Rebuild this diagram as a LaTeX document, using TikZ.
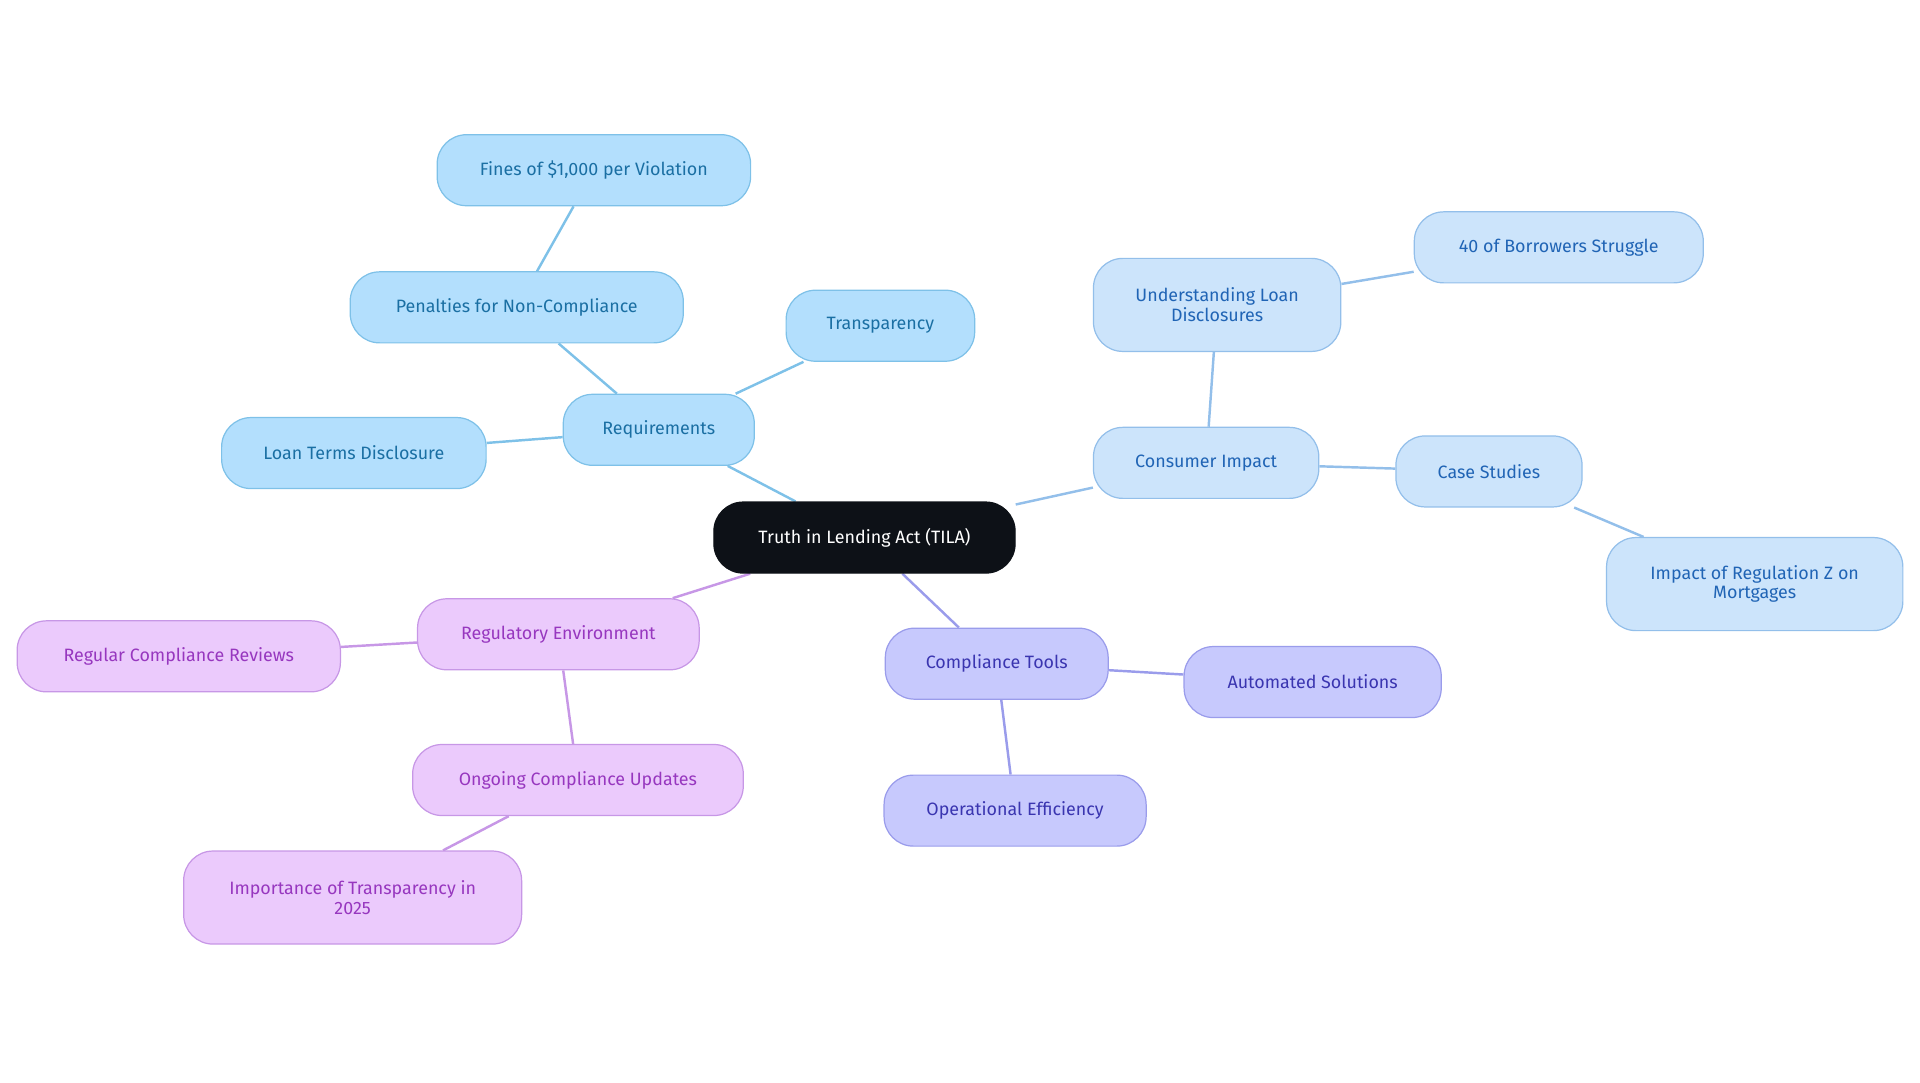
\documentclass[tikz,border=0pt]{standalone}
\usepackage{fontspec}
\setmainfont{Fira Sans}
\usetikzlibrary{backgrounds}
\definecolor{rootfill}{HTML}{0D1117}
\definecolor{reqfill}{HTML}{B3DFFD}
\definecolor{reqline}{HTML}{7EC1E8}
\definecolor{reqtext}{HTML}{1A6FA3}
\definecolor{conffill}{HTML}{CCE4FB}
\definecolor{conline}{HTML}{93BFEA}
\definecolor{context}{HTML}{2064B5}
\definecolor{toolfill}{HTML}{C7C9FD}
\definecolor{toolline}{HTML}{9A9CEB}
\definecolor{tooltext}{HTML}{3A35B0}
\definecolor{regfill}{HTML}{EBCAFC}
\definecolor{regline}{HTML}{C797E6}
\definecolor{regtext}{HTML}{9737BF}
\tikzset{
    BOX/.style ={rectangle, rounded corners=12pt, minimum height=29pt, draw, line width=0.5pt,
                 align=center, font=\fontsize{7.3}{8}\selectfont, inner xsep=6pt},
    RQ/.style ={BOX, fill=reqfill, draw=reqline, text=reqtext},
    CO/.style ={BOX, fill=conffill, draw=conline, text=context},
    TL/.style ={BOX, fill=toolfill, draw=toolline, text=tooltext},
    RG/.style ={BOX, fill=regfill, draw=regline, text=regtext},
    LK/.style ={line width=1pt}}
\begin{document}
\begin{tikzpicture}[x=0.5pt,y=-0.5pt]
    \useasboundingbox (0,0) rectangle (1568,884);
    % root
    \node[BOX, fill=rootfill, draw=rootfill, text=white, minimum width=123pt] (tila) at (706,439) {Truth in Lending Act (TILA)};
    % requirements branch
    \node[RQ, minimum width=78pt] (req) at (538,351) {Requirements};
    \node[RQ, minimum width=136pt] (pen) at (422,251) {Penalties for Non-Compliance};
    \node[RQ, minimum width=128pt] (fine) at (485,139) {Fines of \$1,000 per Violation};
    \node[RQ, minimum width=77pt] (trans) at (719,266) {Transparency};
    \node[RQ, minimum width=108pt] (loan) at (289,370) {Loan Terms Disclosure};
    % consumer branch
    \node[CO, minimum width=92pt] (cons) at (985,378) {Consumer Impact};
    \node[CO, minimum width=101pt, minimum height=38pt] (und) at (994,249) {Understanding Loan\\Disclosures};
    \node[CO, minimum width=118pt] (bor) at (1273,202) {40 of Borrowers Struggle};
    \node[CO, minimum width=76pt] (case) at (1216,385) {Case Studies};
    \node[CO, minimum width=121pt, minimum height=38pt] (regz) at (1433,477) {Impact of Regulation Z on\\Mortgages};
    % tools branch
    \node[TL, minimum width=91pt] (tool) at (814,542) {Compliance Tools};
    \node[TL, minimum width=105pt] (auto) at (1072,557) {Automated Solutions};
    \node[TL, minimum width=107pt] (oper) at (829,662) {Operational Efficiency};
    % regulatory branch
    \node[RG, minimum width=115pt] (renv) at (456,518) {Regulatory Environment};
    \node[RG, minimum width=132pt] (rev) at (146,536) {Regular Compliance Reviews};
    \node[RG, minimum width=135pt] (ong) at (472,637) {Ongoing Compliance Updates};
    \node[RG, minimum width=138pt, minimum height=38pt] (imp) at (288,733) {Importance of Transparency in\\2025};
    % links
    \begin{scope}[on background layer]
    \draw[LK, reqline] (tila) -- (req);
    \draw[LK, reqline] (req) -- (pen);
    \draw[LK, reqline] (pen) -- (fine);
    \draw[LK, reqline] (req) -- (trans);
    \draw[LK, reqline] (req) -- (loan);
    \draw[LK, conline] (tila) -- (cons);
    \draw[LK, conline] (cons) -- (und);
    \draw[LK, conline] (und) -- (bor);
    \draw[LK, conline] (cons) -- (case);
    \draw[LK, conline] (case) -- (regz);
    \draw[LK, toolline] (tila) -- (tool);
    \draw[LK, toolline] (tool) -- (auto);
    \draw[LK, toolline] (tool) -- (oper);
    \draw[LK, regline] (tila) -- (renv);
    \draw[LK, regline] (renv) -- (rev);
    \draw[LK, regline] (renv) -- (ong);
    \draw[LK, regline] (ong) -- (imp);
    \end{scope}
\end{tikzpicture}
\end{document}
